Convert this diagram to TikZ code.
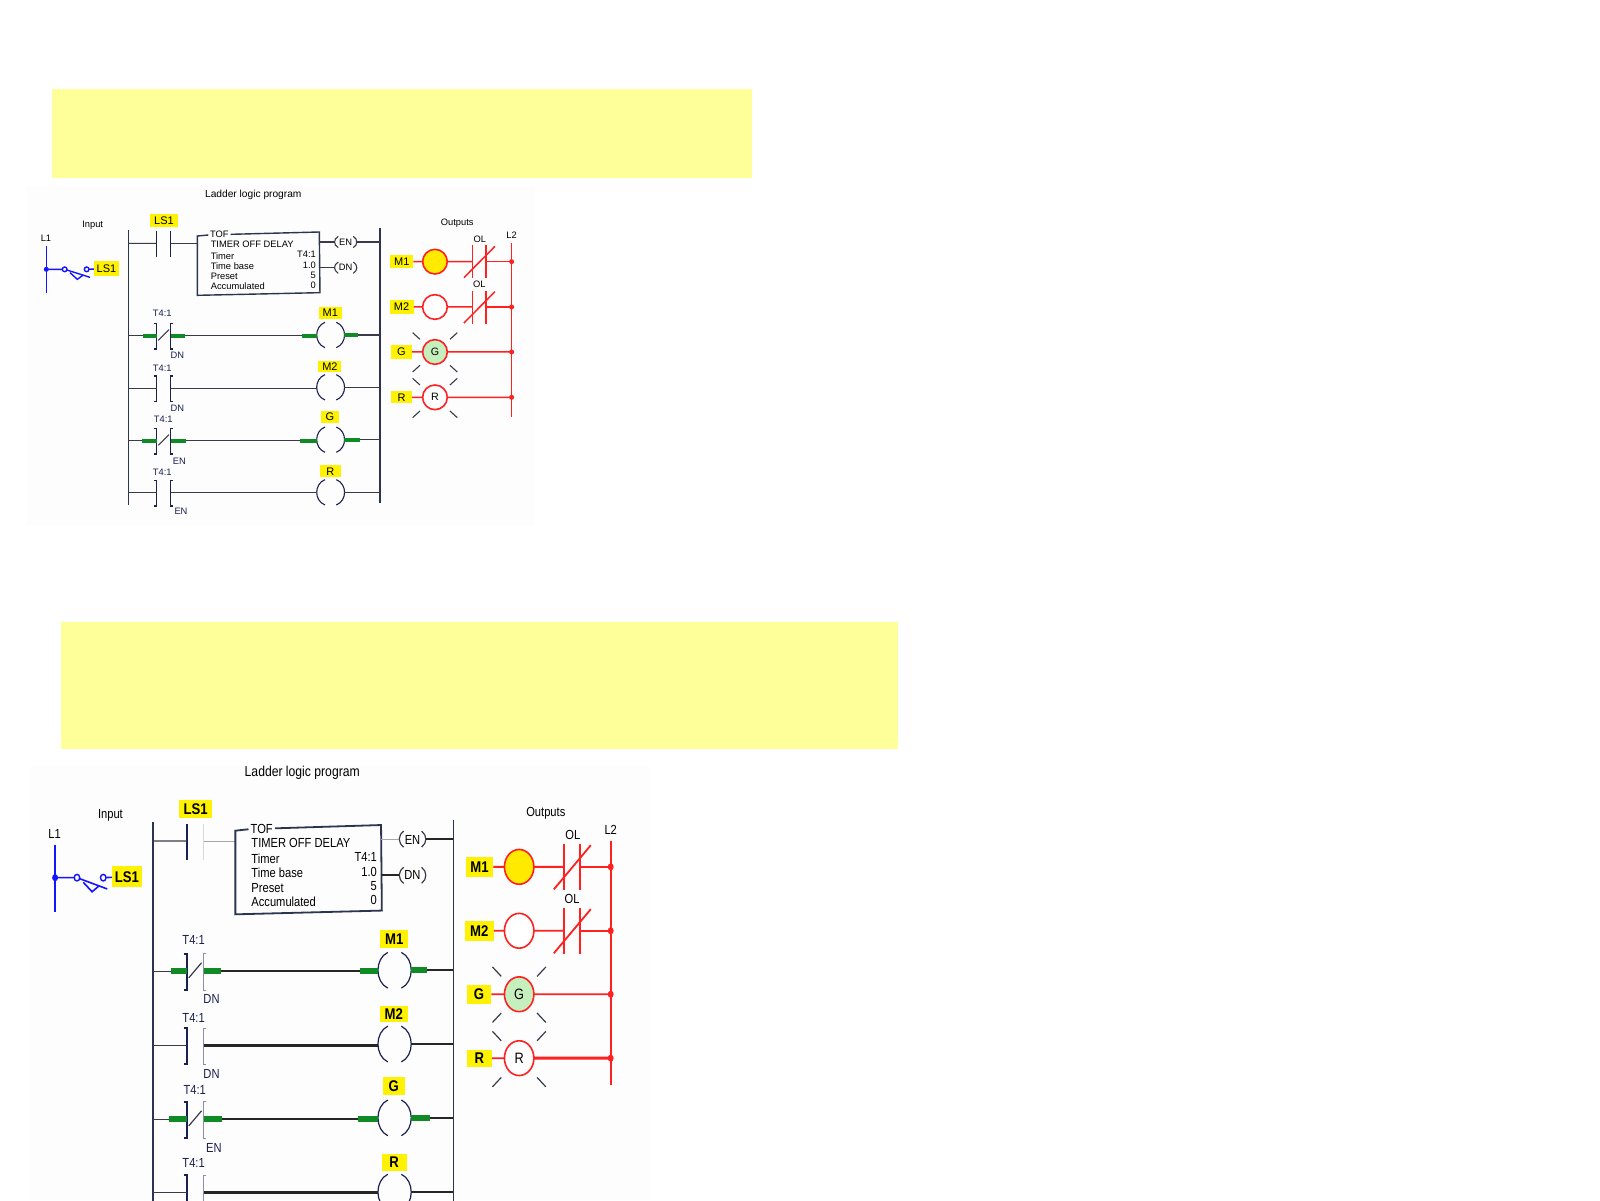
\documentclass[tikz,border=0pt]{standalone}
\usepackage{fontspec}
\setmainfont{Liberation Sans}
\definecolor{note}{HTML}{FFFF99}
\definecolor{wirec}{HTML}{3A3A48}
\definecolor{railc}{HTML}{2B3550}
\definecolor{inkc}{HTML}{1A2050}
\definecolor{bluec}{HTML}{1414FF}
\definecolor{redc}{HTML}{FF2020}
\definecolor{greenc}{HTML}{0F8A25}
\definecolor{lampg}{HTML}{C6EFBE}
\definecolor{lampy}{HTML}{FFEA00}
\definecolor{paper}{HTML}{FDFDFD}
\tikzset{
  txt/.style={inner sep=0pt,font=\fontsize{14}{16}\selectfont,text=black},
  ttl/.style={inner sep=0pt,font=\fontsize{15.3}{18}\selectfont,text=black},
  tag/.style={inner sep=0pt,font=\fontsize{14}{16}\selectfont,text=inkc},
  lab/.style={fill=yellow,inner sep=0pt,font=\fontsize{16.5}{18}\selectfont,text=black},
  lamp/.style={circle,draw=redc,line width=#1,minimum size=37pt,inner sep=0pt,font=\fontsize{16}{18}\selectfont},
  lamp/.default=0.8pt,
}
\newcommand{\RungContact}[4]{% name,x,y,closed(1)/open(0)
  \coordinate (#1-l) at (#2,#3);
  \coordinate (#1-r) at ({#2+42},#3);
  \draw[plateL] ({#2-8},{#3-37}) -- (#2,{#3-37}) -- (#2,{#3+40}) -- ({#2-8},{#3+40});
  \draw[plateR] ({#2+49},{#3-37}) -- ({#2+42},{#3-37}) -- ({#2+42},{#3+40}) -- ({#2+49},{#3+40});
  \ifnum#4=1 \draw[wireA] ({#2+5},{#3+14}) -- ({#2+37},{#3-18}); \fi
}
\newcommand{\RungCoil}[3]{% name,x,y centre
  \node[circle,minimum size=41pt,inner sep=0pt] (#1) at (#2,#3) {};
  \coordinate (#1-l) at ({#2-41},#3);
  \coordinate (#1-r) at ({#2+41},#3);
  \draw[coilw] ({#2-17},{#3-38}) .. controls ({#2-50},{#3-25}) and ({#2-50},{#3+25}) .. ({#2-17},{#3+38});
  \draw[coilw] ({#2+17},{#3-38}) .. controls ({#2+50},{#3-25}) and ({#2+50},{#3+25}) .. ({#2+17},{#3+38});
}
\newcommand{\Rays}[2]{%
  \draw[wireA] ({#1-67},{#2-58}) -- ({#1-45},{#2-38});
  \draw[wireA] ({#1+67},{#2-58}) -- ({#1+45},{#2-38});
  \draw[wireA] ({#1-67},{#2+60}) -- ({#1-45},{#2+40});
  \draw[wireA] ({#1+67},{#2+60}) -- ({#1+45},{#2+40});
}
\newcommand{\NCcontact}[3]{% name, x, y
  \coordinate (#1-l) at (1358,#3);
  \coordinate (#1-r) at (1398,#3);
  \draw[redw] (1358,{#3-49}) -- (1358,{#3+50});
  \draw[redw] (1398,{#3-49}) -- (1398,{#3+50});
  \draw[redw] (1332,{#3+48}) -- (1425,{#3-46});
}
\newcommand{\LadderPic}[1]{%
  \node[ttl] (#1title) at (700,75) {Ladder logic program};
  \node[txt] (#1input) at (218,166) {Input};
  \node[txt] (#1outputs) at (1312,160) {Outputs};
  \node[txt] (#1lone) at (78,205) {L1};
  \node[txt] (#1ltwo) at (1475,196) {L2};
  % input switch
  \coordinate (#1ltop) at (79,228);
  \coordinate (#1lbot) at (79,370);
  \coordinate (#1ldot) at (79,298);
  \draw[bluew] (#1ltop) -- (#1lbot);
  \fill[bluec] (#1ldot) circle [radius=7.5];
  \node[circle,draw=bluec,line width=0.7pt,minimum size=7pt,inner sep=0pt,fill=white] (#1sa) at (134,298) {};
  \node[circle,draw=bluec,line width=0.7pt,minimum size=7pt,inner sep=0pt,fill=white] (#1sb) at (200,298) {};
  \node[lab,minimum width=37.5pt,minimum height=22pt] (#1lsin) at (259.5,296) {LS1};
  \draw[bluew] (#1ldot) -- (#1sa);
  \draw[bluew] (#1sb) -- (#1lsin);
  \draw[bluew] (#1sa) -- (210,322);
  \draw[bluew] (150,308) -- (172,328) -- (190,315);
  % rails
  \coordinate (#1la) at (325,180);
  \coordinate (#1lb) at (325,1005);
  \coordinate (#1ra) at (1080,175);
  \coordinate (#1rb) at (1080,998);
  \draw[railw] (#1la) -- (#1lb);
  \draw[railw] (#1ra) -- (#1rb);
  % LS1 rung
  \node[lab,minimum width=42pt,minimum height=20pt] (#1lsr) at (432,152) {LS1};
  \coordinate (#1ca) at (410,220);
  \coordinate (#1cb) at (452,220);
  \draw[plateL] (410,183) -- (410,260);
  \draw[plateP] (452,183) -- (452,260);
  \draw[wireA] (325,220) -- (#1ca);
  % timer
  \coordinate (#1ta) at (532,220);
  \draw[wireP] (#1cb) -- (#1ta);
  \draw[boxw] (565,195) -- (532,198) -- (532,376) -- (900,368) -- (898,186) -- (632,193);
  \node[txt,anchor=west] (#1tof) at (570,194) {TOF};
  \node[txt,anchor=west] (#1tt) at (572,224) {TIMER OFF DELAY};
  \node[txt,anchor=west] (#1ttimer) at (572,257) {Timer};
  \node[txt,anchor=west] (#1tbase) at (572,288) {Time base};
  \node[txt,anchor=west] (#1tpre) at (572,320) {Preset};
  \node[txt,anchor=west] (#1tacc) at (572,350) {Accumulated};
  \node[txt,anchor=east] (#1vt) at (888,253) {T4:1};
  \node[txt,anchor=east] (#1vb) at (888,285) {1.0};
  \node[txt,anchor=east] (#1vp) at (888,315) {5};
  \node[txt,anchor=east] (#1va) at (888,346) {0};
  % EN / DN instructions
  \node[txt] (#1en) at (977,217) {EN};
  \node[txt] (#1dn) at (977,293) {DN};
  \foreach \nm/\yy in {en/216,dn/293} {
    \draw[wireA] (955,{\yy-17}) .. controls (940,{\yy-8}) and (940,{\yy+8}) .. (955,{\yy+17});
    \draw[wireA] (1000,{\yy-17}) .. controls (1014,{\yy-8}) and (1014,{\yy+8}) .. (1000,{\yy+17});
  }
  \coordinate (#1ena) at (898,216);
  \coordinate (#1enb) at (944,216);
  \coordinate (#1enc) at (1010,216);
  \coordinate (#1dna) at (898,293);
  \coordinate (#1dnb) at (944,293);
  \draw[wireP] (#1ena) -- (#1enb);
  \draw[wireB] (#1enc) -- (#1ra |- #1enc);
  \draw[wireB] (#1dna) -- (#1dnb);
  % rungs
  \node[tag] at (427,431) {T4:1};
  \node[tag] at (427,596) {T4:1};
  \node[tag] at (430,749) {T4:1};
  \node[tag] at (427,906) {T4:1};
  \node[tag] at (472,556) {DN};
  \node[tag] at (472,715) {DN};
  \node[tag] at (478,873) {EN};
  \node[lab,minimum width=34.5pt,minimum height=19pt] (#1lm1) at (931,429) {M1};
  \node[lab,minimum width=34.5pt,minimum height=17pt] (#1lm2) at (930,589) {M2};
  \node[lab,minimum width=27.5pt,minimum height=18.5pt] (#1lg) at (930,741) {G};
  \node[lab,minimum width=31.5pt,minimum height=18pt] (#1lr) at (931,904) {R};
  \RungContact{#1ka}{410}{497}{1}
  \RungContact{#1kb}{410}{655}{0}
  \RungContact{#1kc}{410}{812}{1}
  \RungContact{#1kd}{410}{968}{0}
  \RungCoil{#1oa}{932}{495}
  \RungCoil{#1ob}{932}{652}
  \RungCoil{#1oc}{932}{809}
  \RungCoil{#1od}{932}{967}
  \foreach \k/\o in {ka/oa,kb/ob,kc/oc,kd/od}{
    \draw[wireA] (#1la |- #1\k-l) -- (#1\k-l);
    \draw[wireB] (#1\k-r) -- (#1\o-l |- #1\k-r);
    \draw[wireB] (#1\o-r) -- (#1ra |- #1\o-r);
  }
  % green highlights
  \foreach \xa/\xb/\y in {370/410/497,452/495/497,845/891/497,973/1014/495,
                          365/410/812,452/498/812,840/891/812,973/1021/809}{
    \draw[greenw] (\xa,\y) -- (\xb,\y);
  }
  % outputs
  \coordinate (#1lt) at (1475,220);
  \coordinate (#1lu) at (1475,740);
  \draw[redw] (#1lt) -- (#1lu);
  \node[lab,minimum width=34.5pt,minimum height=20.5pt] (#1om1) at (1145.5,275) {M1};
  \node[lab,minimum width=36pt,minimum height=21pt] (#1om2) at (1145,411) {M2};
  \node[lab,minimum width=31pt,minimum height=20pt] (#1og) at (1144,546) {G};
  \node[lab,minimum width=31pt,minimum height=18pt] (#1orr) at (1145,682) {R};
  \node[lamp,fill=lampy] (#1pa) at (1245,275) {};
  \node[lamp,fill=white] (#1pb) at (1245,411) {};
  \node[lamp,fill=lampg] (#1pc) at (1245,546) {G};
  \node[lamp,fill=white] (#1pd) at (1245,682) {R};
  \NCcontact{#1na}{1358}{275}
  \NCcontact{#1nb}{1358}{411}
  \node[txt] (#1ola) at (1380,208) {OL};
  \node[txt] (#1olb) at (1378,344) {OL};
  \coordinate (#1da) at (1475,275);
  \coordinate (#1db) at (1475,411);
  \coordinate (#1dc) at (1475,546);
  \coordinate (#1dd) at (1475,682);
  \draw[redw] (#1na-r) -- (#1da);
  \draw[redw] (#1nb-r) -- (#1db);
  \draw[redw] (#1om1) -- (#1pa);
  \draw[redw] (#1pa) -- (#1na-l);
  \draw[redw] (#1om2) -- (#1pb);
  \draw[redw] (#1pb) -- (#1nb-l);
  \draw[redw] (#1og) -- (#1pc);
  \draw[redw] (#1pc) -- (#1dc);
  \draw[redw] (#1orr) -- (#1pd);
  \draw[redh] (#1pd) -- (#1dd);
  \foreach \d in {da,db,dc,dd}{ \fill[redc] (#1\d) circle [radius=7.5]; }
  \Rays{1245}{546}
  \Rays{1245}{683}
}
\begin{document}
\begin{tikzpicture}[x=0.5pt,y=-0.5pt]
  \clip[use as bounding box] (0,0) rectangle (1600,1200);
  \fill[white] (0,0) rectangle (1600,1200);
  \fill[paper] (26,186) rectangle (535,525);
  \fill[paper] (30,766) rectangle (650,1200);
  \fill[note] (52,89) rectangle (752,178);
  \fill[note] (61,622) rectangle (898,749);
  \begin{scope}[shift={(20,170)},xscale=0.3333,yscale=0.3333,transform shape,
    wireA/.style={draw=wirec,line width=0.55pt},
    wireB/.style={draw=wirec,line width=0.65pt},
    wireP/.style={draw=wirec,line width=0.55pt},
    coilw/.style={draw=inkc,line width=0.55pt},
    plateL/.style={draw=inkc,line width=0.6pt},
    plateR/.style={draw=inkc,line width=0.6pt},
    plateP/.style={draw=inkc,line width=0.6pt},
    railw/.style={draw=railc,line width=0.6pt},
    boxw/.style={draw=railc,line width=0.7pt},
    bluew/.style={draw=bluec,line width=0.7pt},
    redw/.style={draw=redc,line width=0.75pt},
    redh/.style={draw=redc,line width=0.75pt},
    greenw/.style={draw=greenc,line width=1.9pt}]
    \LadderPic{u}
    \node[tag] (uenlast) at (483,1024) {EN};
  \end{scope}
  \begin{scope}[shift={(23.65,737.6)},xscale=0.398,yscale=0.47,transform shape,
    lab/.append style={font=\fontsize{16.5}{18}\selectfont\bfseries},
    wireA/.style={draw=wirec,line width=0.6pt},
    wireB/.style={draw=black!85,line width=1.1pt},
    wireP/.style={draw=black!35,line width=0.5pt},
    coilw/.style={draw=inkc,line width=0.6pt},
    plateL/.style={draw=inkc,line width=0.9pt},
    plateR/.style={draw=inkc!50,line width=0.5pt},
    plateP/.style={draw=black!15,line width=0.6pt},
    railw/.style={draw=railc,line width=0.7pt},
    boxw/.style={draw=railc,line width=0.9pt},
    bluew/.style={draw=bluec,line width=0.8pt},
    redw/.style={draw=redc,line width=0.9pt},
    redh/.style={draw=redc,line width=1.5pt},
    greenw/.style={draw=greenc,line width=3pt}]
    \LadderPic{d}
  \end{scope}
\end{tikzpicture}
\end{document}
